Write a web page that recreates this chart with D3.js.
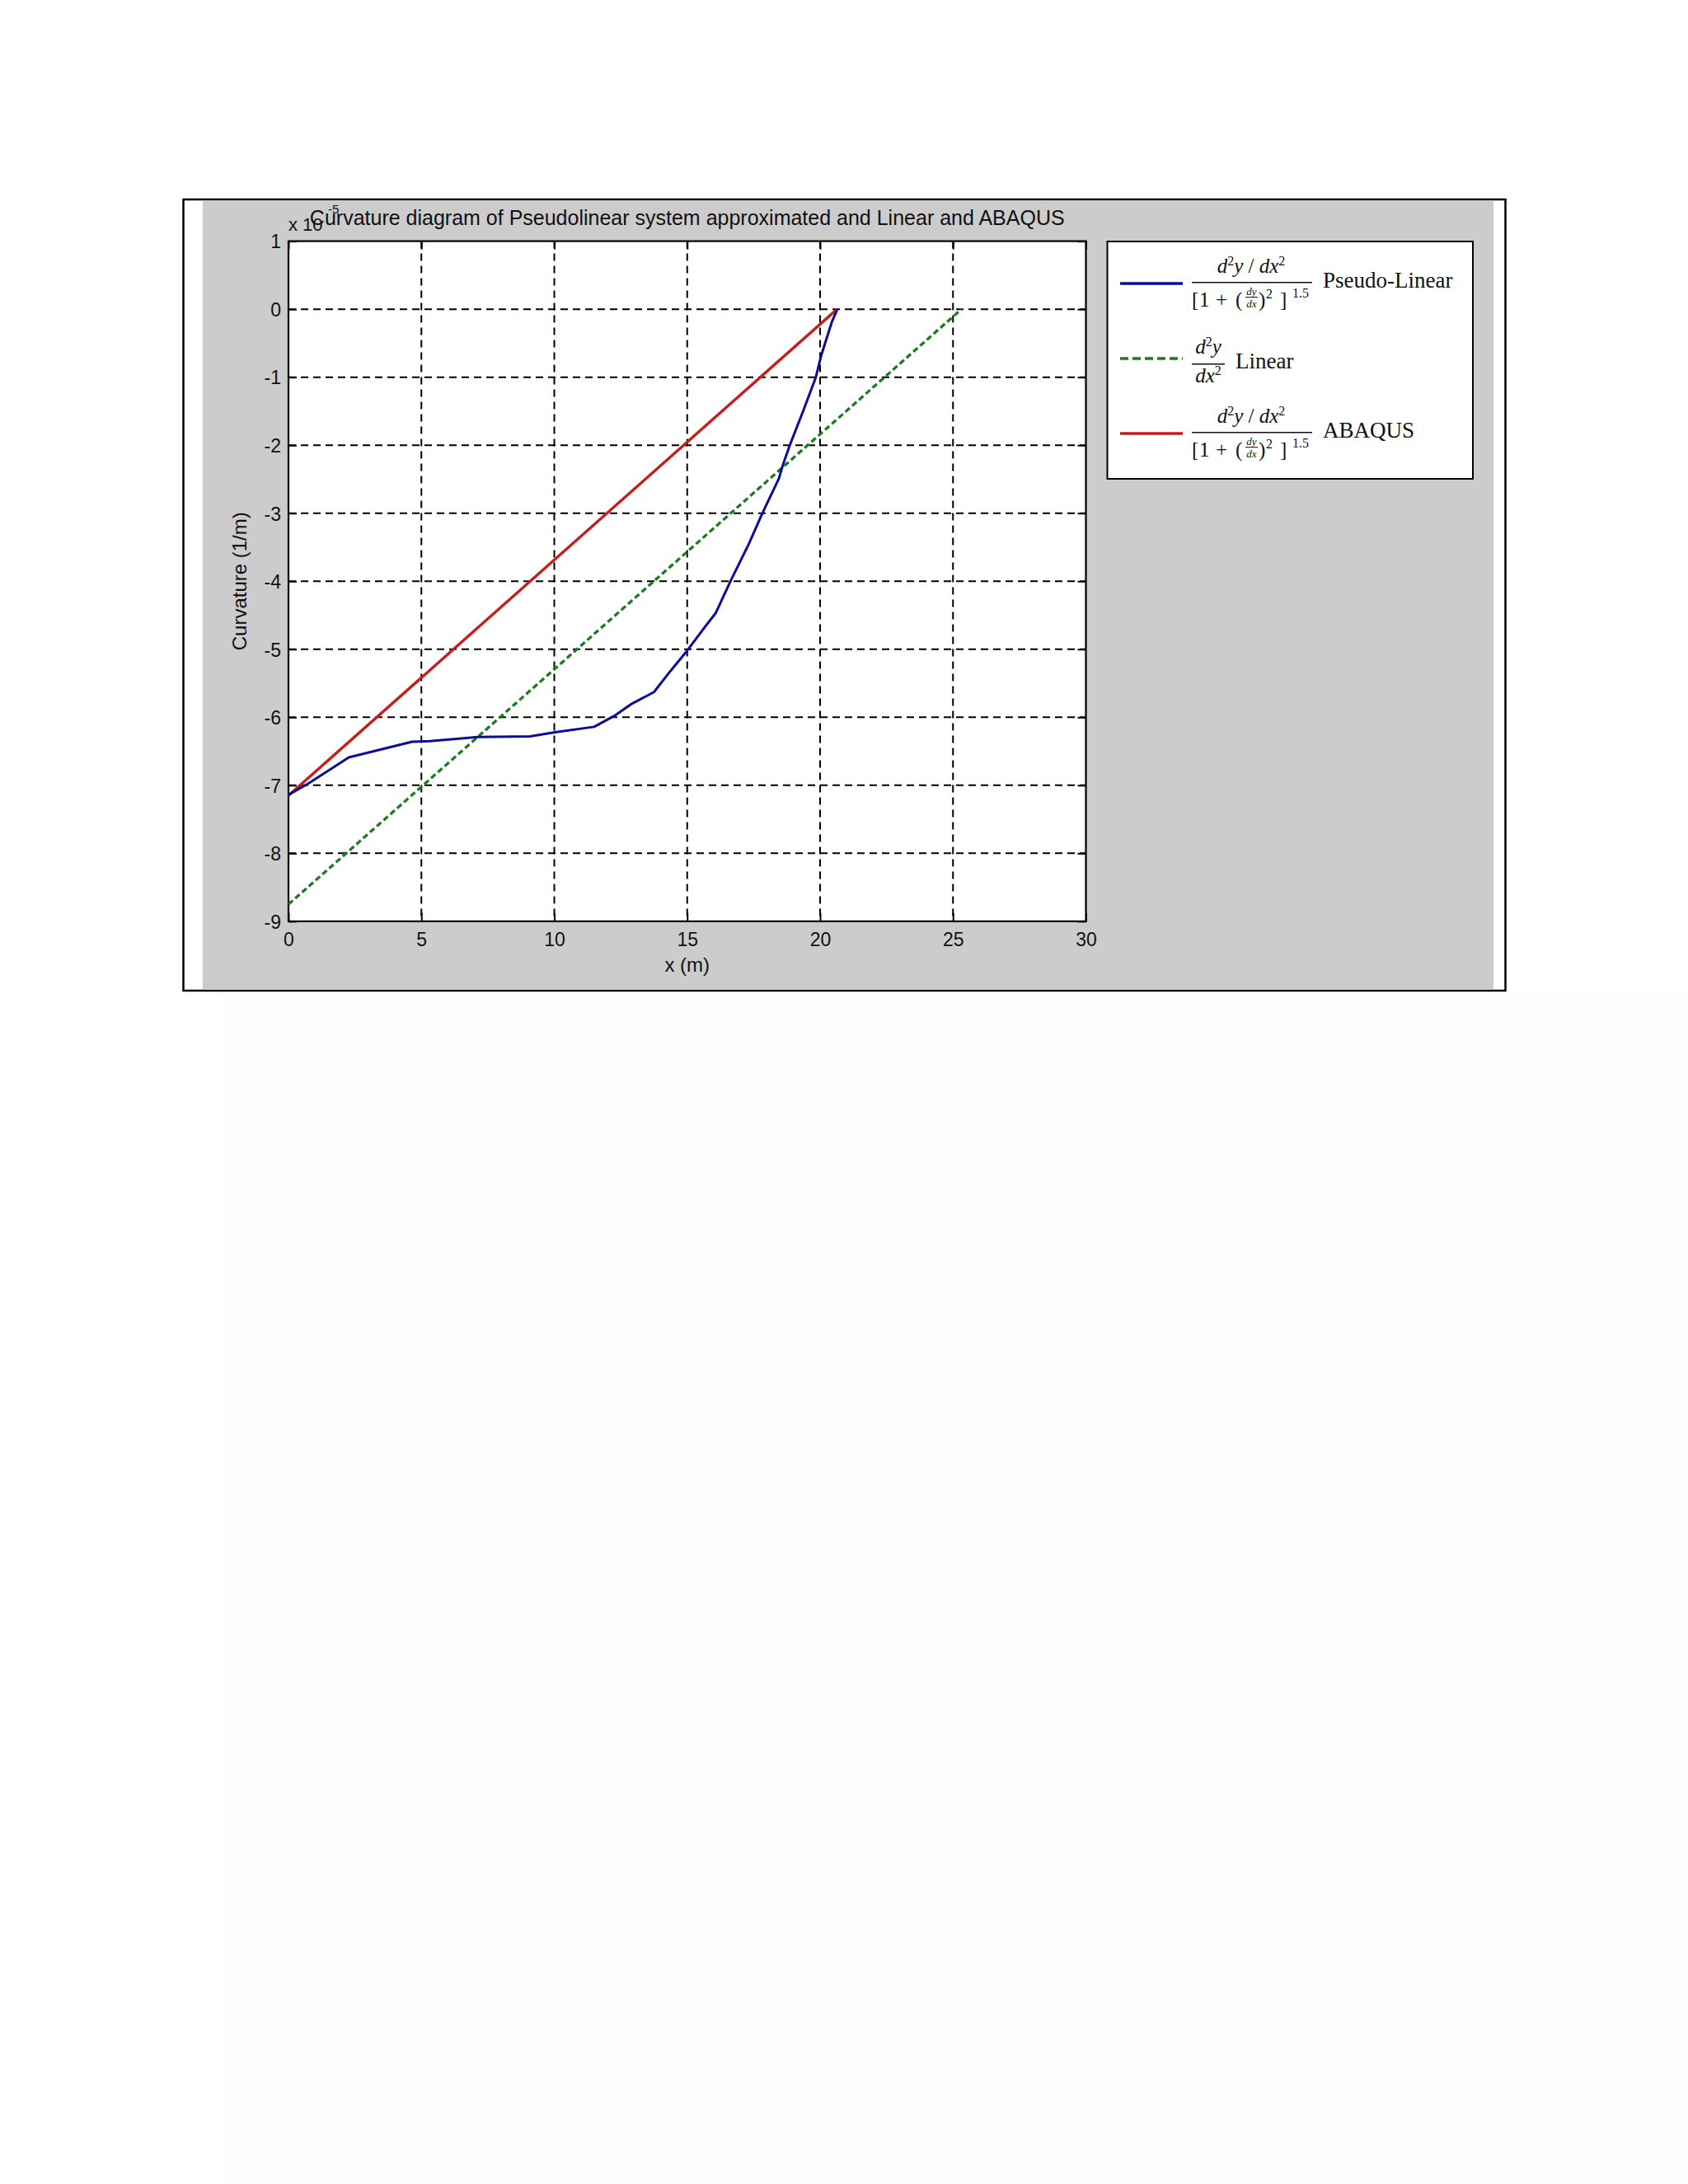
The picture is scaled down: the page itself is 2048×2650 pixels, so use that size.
<!DOCTYPE html>
<html><head><meta charset="utf-8">
<script src="https://cdn.jsdelivr.net/npm/d3@7"></script>
<style>body{margin:0;background:#fff}</style>
</head><body>
<script>
// ---------- data ----------
const xTickValues = [0, 5, 10, 15, 20, 25, 30];
const yTickValues = [1, 0, -1, -2, -3, -4, -5, -6, -7, -8, -9];

const pseudoX = [0, 0.72, 2.27, 4.65, 5.32, 7.13, 9.09, 10.03, 11.5, 12.3, 12.92, 13.75, 14.37, 15.0, 15.71, 16.07, 16.64, 17.31, 17.83, 18.45, 18.6, 18.86, 19.38, 19.84, 20.05, 20.44, 20.65];
const pseudoY = [-7.14, -6.98, -6.59, -6.36, -6.35, -6.29, -6.28, -6.22, -6.14, -5.97, -5.80, -5.63, -5.32, -5.02, -4.65, -4.47, -3.99, -3.46, -3.0, -2.49, -2.29, -2.0, -1.48, -1.0, -0.67, -0.19, 0.0];

const linearX = [0, 25.32];
const linearY = [-8.75, 0];

const abaqusX = [0, 20.64];
const abaqusY = [-7.15, 0];

const seriesNames = ["Pseudo-Linear", "Linear", "ABAQUS"];
const titleText = "Curvature diagram of Pseudolinear system approximated and Linear and ABAQUS";
const xLabelText = "x (m)";
const yLabelText = "Curvature (1/m)";
const exponentBase = "x 10";
const exponentPow = "-5";

// ---------- layout ----------
const W = 2048, H = 2650;
const plot = {left: 350, right: 1317.5, top: 292.6, bottom: 1117.9};
const sansFont = "'Liberation Sans', Arial, Helvetica, sans-serif";
const serifFont = "'Liberation Serif', 'Times New Roman', serif";
const colors = {pseudo: "#0c0c9a", linear: "#1f7a1f", abaqus: "#c41e1e"};

const svg = d3.select("body").append("svg")
  .attr("width", W).attr("height", H)
  .attr("viewBox", `0 0 ${W} ${H}`);

svg.append("rect").attr("x", 0).attr("y", 0).attr("width", W).attr("height", H).attr("fill", "#ffffff");
svg.append("rect").attr("x", 270).attr("y", 1206).attr("width", W - 270).attr("height", H - 1206).attr("fill", "#fdfdfd");

// outer frame
svg.append("rect").attr("x", 222.5).attr("y", 242).attr("width", 1604).attr("height", 960)
  .attr("fill", "#ffffff").attr("stroke", "#000").attr("stroke-width", 2.5);
svg.append("rect").attr("x", 246).attr("y", 243.5).attr("width", 1566).attr("height", 957)
  .attr("fill", "#cdcccd");

const x = d3.scaleLinear().domain([0, 30]).range([plot.left, plot.right]);
const y = d3.scaleLinear().domain([-9, 1]).range([plot.bottom, plot.top]);

// plot area
svg.append("rect").attr("x", plot.left).attr("y", plot.top)
  .attr("width", plot.right - plot.left).attr("height", plot.bottom - plot.top)
  .attr("fill", "#ffffff");

// grid
const grid = svg.append("g");
grid.selectAll("line.v").data(xTickValues.slice(1, -1)).join("line")
  .attr("x1", d => x(d)).attr("x2", d => x(d))
  .attr("y1", plot.top).attr("y2", plot.bottom)
  .attr("stroke", "#000").attr("stroke-width", 2).attr("stroke-dasharray", "9,6");
grid.selectAll("line.h").data(yTickValues.slice(1, -1)).join("line")
  .attr("y1", d => y(d)).attr("y2", d => y(d))
  .attr("x1", plot.left).attr("x2", plot.right)
  .attr("stroke", "#000").attr("stroke-width", 2).attr("stroke-dasharray", "9,6");

// axes
const fmt = d => String(d);
const xAxis = d3.axisBottom(x).tickValues(xTickValues).tickSize(-10).tickPadding(14).tickFormat(fmt);
const yAxis = d3.axisLeft(y).tickValues(yTickValues).tickSize(-10).tickPadding(9).tickFormat(fmt);
const gx = svg.append("g").attr("transform", `translate(0,${plot.bottom})`).call(xAxis);
const gy = svg.append("g").attr("transform", `translate(${plot.left},0)`).call(yAxis);
const gxTop = svg.append("g").attr("transform", `translate(0,${plot.top})`).call(d3.axisTop(x).tickValues(xTickValues).tickSize(-10).tickFormat(""));
const gyRight = svg.append("g").attr("transform", `translate(${plot.right},0)`).call(d3.axisRight(y).tickValues(yTickValues).tickSize(-10).tickFormat(""));
[gx, gy, gxTop, gyRight].forEach(g => {
  g.select(".domain").remove();
  g.selectAll(".tick line").attr("stroke", "#000").attr("stroke-width", 2);
  g.selectAll(".tick text").attr("font-family", sansFont).attr("font-size", 23).attr("fill", "#111");
});
gy.selectAll(".tick text").attr("dy", "0.36em");

// box
svg.append("rect").attr("x", plot.left).attr("y", plot.top)
  .attr("width", plot.right - plot.left).attr("height", plot.bottom - plot.top)
  .attr("fill", "none").attr("stroke", "#000").attr("stroke-width", 2.2);

// series
const toPts = (xs, ys) => xs.map((v, i) => [v, ys[i]]);
const line = d3.line().x(d => x(d[0])).y(d => y(d[1]));
const plotG = svg.append("g");
plotG.append("path").datum(toPts(linearX, linearY)).attr("d", line)
  .attr("fill", "none").attr("stroke", colors.linear).attr("stroke-width", 3.3).attr("stroke-dasharray", "7,4");
plotG.append("path").datum(toPts(abaqusX, abaqusY)).attr("d", line)
  .attr("fill", "none").attr("stroke", colors.abaqus).attr("stroke-width", 3.4);
plotG.append("path").datum(toPts(pseudoX, pseudoY)).attr("d", line)
  .attr("fill", "none").attr("stroke", colors.pseudo).attr("stroke-width", 3).attr("stroke-linejoin", "round");

// titles
svg.append("text").attr("x", (plot.left + plot.right) / 2).attr("y", 273)
  .attr("text-anchor", "middle").attr("font-family", sansFont).attr("font-size", 25).attr("fill", "#111")
  .text(titleText);
svg.append("text").attr("x", 350).attr("y", 280)
  .attr("font-family", sansFont).attr("font-size", 22).attr("fill", "#111").text(exponentBase);
svg.append("text").attr("x", 398).attr("y", 259)
  .attr("font-family", sansFont).attr("font-size", 15).attr("fill", "#111").text(exponentPow);
svg.append("text").attr("x", (plot.left + plot.right) / 2).attr("y", 1179)
  .attr("text-anchor", "middle").attr("font-family", sansFont).attr("font-size", 24).attr("fill", "#111")
  .text(xLabelText);
svg.append("text").attr("transform", `translate(299,${(plot.top + plot.bottom) / 2}) rotate(-90)`)
  .attr("text-anchor", "middle").attr("font-family", sansFont).attr("font-size", 24).attr("fill", "#111")
  .text(yLabelText);

// ---------- legend ----------
const lg = svg.append("g");
lg.append("rect").attr("x", 1343.5).attr("y", 293).attr("width", 443.5).attr("height", 288)
  .attr("fill", "#fff").attr("stroke", "#000").attr("stroke-width", 2);

const legendItems = [
  {name: seriesNames[0], color: colors.pseudo, dash: null, kind: "curv"},
  {name: seriesNames[1], color: colors.linear, dash: "10,5", kind: "lin"},
  {name: seriesNames[2], color: colors.abaqus, dash: null, kind: "curv"}
];
const rowY = i => 344 + i * 91;

function addText(g, xx, yy, str, opts = {}) {
  return g.append("text").attr("x", xx).attr("y", yy)
    .attr("font-family", serifFont).attr("font-size", opts.size || 25)
    .attr("font-style", opts.italic ? "italic" : "normal")
    .attr("text-anchor", opts.anchor || "start").attr("fill", "#111").text(str);
}
function stackText(g, cx, base, parts) {
  const t = g.append("text").attr("x", cx).attr("y", base).attr("text-anchor", "middle")
    .attr("font-family", serifFont).attr("font-size", 25).attr("fill", "#111").attr("font-style", "italic");
  let up = false;
  parts.forEach(p => {
    const s = t.append("tspan").text(p.t);
    if (p.sup) { s.attr("dy", -9).attr("font-size", 16).attr("font-style", "normal"); up = true; }
    else if (up) { s.attr("dy", 9); up = false; }
    if (p.upright) s.attr("font-style", "normal");
  });
  return t;
}

legendItems.forEach((it, i) => {
  const ry = rowY(i);
  const g = lg.append("g");
  g.append("line").attr("x1", 1359).attr("x2", 1435).attr("y1", ry).attr("y2", ry)
    .attr("stroke", it.color).attr("stroke-width", 3.4).attr("stroke-dasharray", it.dash);
  if (it.kind === "curv") {
    const bar = ry - 1.3;
    g.append("line").attr("x1", 1446).attr("x2", 1592).attr("y1", bar).attr("y2", bar)
      .attr("stroke", "#111").attr("stroke-width", 1.5);
    stackText(g, 1518, bar - 12, [{t: "d"}, {t: "2", sup: true}, {t: "y"}, {t: " / ", upright: true}, {t: "dx"}, {t: "2", sup: true}]);
    const db = bar + 29;
    addText(g, 1446, db, "[", {});
    addText(g, 1455, db, "1", {});
    addText(g, 1475, db, "+", {});
    addText(g, 1499, db, "(", {});
    addText(g, 1518.5, bar + 15, "dy", {size: 13, italic: true, anchor: "middle"});
    g.append("line").attr("x1", 1511).attr("x2", 1526).attr("y1", bar + 18).attr("y2", bar + 18)
      .attr("stroke", "#111").attr("stroke-width", 1);
    addText(g, 1518.5, bar + 30, "dx", {size: 13, italic: true, anchor: "middle"});
    addText(g, 1527, db, ")", {});
    addText(g, 1536, db - 10, "2", {size: 16});
    addText(g, 1553, db, "]", {});
    addText(g, 1568, db - 11, "1.5", {size: 16});
    addText(g, 1605, ry + 5, it.name, {size: 27});
  } else {
    const bar = ry + 6.7;
    g.append("line").attr("x1", 1446).attr("x2", 1486).attr("y1", bar).attr("y2", bar)
      .attr("stroke", "#111").attr("stroke-width", 1.5);
    stackText(g, 1466, bar - 13, [{t: "d"}, {t: "2", sup: true}, {t: "y"}]);
    stackText(g, 1466, bar + 22, [{t: "dx"}, {t: "2", sup: true}]);
    addText(g, 1499, bar + 5, it.name, {size: 27});
  }
});
</script>
</body></html>
